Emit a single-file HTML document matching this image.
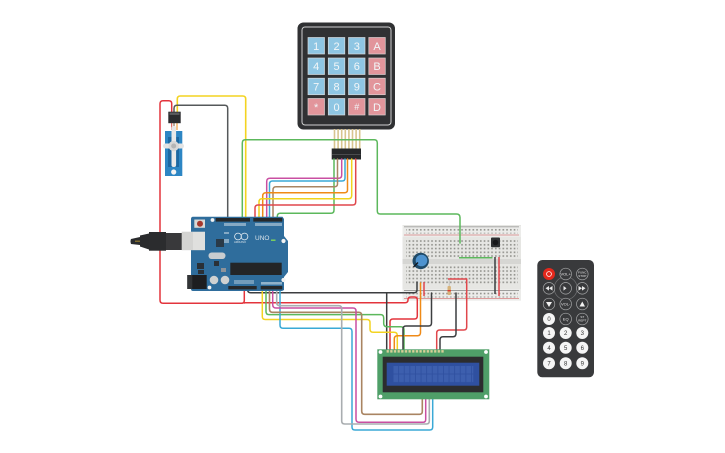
<!DOCTYPE html>
<html><head><meta charset="utf-8"><style>
html,body{margin:0;padding:0;background:#fff}
svg{display:block;filter:blur(.3px)}
text{font-family:"Liberation Sans",sans-serif}
</style></head><body>
<svg width="725" height="453" viewBox="0 0 725 453" xmlns="http://www.w3.org/2000/svg">
<defs>
<pattern id="h" x="404" y="228" width="3.75" height="3.75" patternUnits="userSpaceOnUse"><rect x="1" y="1" width="1.6" height="1.6" fill="#8f8f8a"/></pattern>
<pattern id="lc" x="393.5" y="366" width="5.6" height="8.4" patternUnits="userSpaceOnUse"><rect width="4.7" height="7.6" fill="#3d5fae"/></pattern>
<pattern id="lp" x="386" y="349.5" width="3.65" height="4" patternUnits="userSpaceOnUse"><rect x=".6" y=".6" width="2.3" height="2.5" fill="#d8cf98"/></pattern>
</defs>

<!-- breadboard -->
<rect x="402.5" y="225" width="118.5" height="75.5" fill="#e6e6e3"/>
<rect x="402.5" y="226" width="118.5" height="11" fill="#ececea"/>
<rect x="402.5" y="289" width="118.5" height="11" fill="#ececea"/>
<rect x="402.5" y="259" width="118.5" height="5" fill="#d6d6d3"/>
<rect x="404" y="226.5" width="115" height=".7" fill="#8a8a88"/>
<rect x="404" y="234.5" width="115" height="1" fill="#dc9a9a"/>
<rect x="404" y="290" width="115" height=".8" fill="#8a8a88"/>
<rect x="404" y="298" width="115" height="1" fill="#dc9a9a"/>
<rect x="406" y="227.5" width="112" height="6" fill="url(#h)"/>
<rect x="406" y="240" width="112" height="18" fill="url(#h)"/>
<rect x="406" y="266" width="112" height="18" fill="url(#h)"/>
<rect x="406" y="291.5" width="112" height="6" fill="url(#h)"/>

<!-- keypad -->
<rect x="297.5" y="22.5" width="97.5" height="107" rx="6" fill="#303133"/>
<rect x="302" y="27" width="89" height="98" rx="3" fill="none" stroke="#cfd0d0" stroke-width="1"/>
<g font-size="11" fill="#f2f6f8" text-anchor="middle">
<g fill="#8fc6e3" stroke="#d5dadd" stroke-width=".7">
<rect x="308" y="37.5" width="16.5" height="16.5"/><rect x="328.3" y="37.5" width="16.5" height="16.5"/><rect x="348.5" y="37.5" width="16.5" height="16.5"/>
<rect x="308" y="58" width="16.5" height="16.5"/><rect x="328.3" y="58" width="16.5" height="16.5"/><rect x="348.5" y="58" width="16.5" height="16.5"/>
<rect x="308" y="78.2" width="16.5" height="16.5"/><rect x="328.3" y="78.2" width="16.5" height="16.5"/><rect x="348.5" y="78.2" width="16.5" height="16.5"/>
<rect x="328.3" y="98.5" width="16.5" height="16.5"/>
</g>
<g fill="#e2959b" stroke="#d9cfd0" stroke-width=".7">
<rect x="368.8" y="37.5" width="16.5" height="16.5"/><rect x="368.8" y="58" width="16.5" height="16.5"/><rect x="368.8" y="78.2" width="16.5" height="16.5"/><rect x="368.8" y="98.5" width="16.5" height="16.5"/>
<rect x="308" y="98.5" width="16.5" height="16.5"/><rect x="348.5" y="98.5" width="16.5" height="16.5"/>
</g>
<text x="316.2" y="50">1</text><text x="336.5" y="50">2</text><text x="356.8" y="50">3</text><text x="377" y="50">A</text>
<text x="316.2" y="70">4</text><text x="336.5" y="70">5</text><text x="356.8" y="70">6</text><text x="377" y="70">B</text>
<text x="316.2" y="90.5">7</text><text x="336.5" y="90.5">8</text><text x="356.8" y="90.5">9</text><text x="377" y="90.5">C</text>
<text x="316.2" y="111">*</text><text x="336.5" y="111">0</text><text x="356.8" y="110" font-size="9">#</text><text x="377" y="111">D</text>
</g>
<!-- ribbon -->
<path d="M334.5 129V149M338.1 129V149M341.7 129V149M345.3 129V149M348.9 129V149M352.5 129V149M356.1 129V149M359.7 129V149" stroke="#d8c48f" stroke-width="1.6"/>
<rect x="331.7" y="148.5" width="29.3" height="11" fill="#26282a"/>
<rect x="332" y="154" width="28.5" height="1" fill="#4a4c4e"/>

<!-- wires -->
<g fill="none" stroke-width="1.5" stroke-linecap="round">
<path d="M334 159V210Q334 213.3 331 213.3H280.3Q277.3 213.3 277.3 216.3V220" stroke="#5cb85c"/>
<path d="M341.7 159V175Q341.7 178.3 338.5 178.3H270Q266.7 178.3 266.7 181.5V220" stroke="#c94fa2"/>
<path d="M345 159V178Q345 181 342 181H272.5Q269.5 181 269.5 184V220" stroke="#3aa9d6"/>
<path d="M337.5 159V184Q337.5 186.7 334.5 186.7H276Q273 186.7 273 190V220" stroke="#a98462"/>
<path d="M347.5 159V190Q347.5 192.7 344.5 192.7H266Q262.7 192.7 262.7 196V220" stroke="#ef8a17"/>
<path d="M351.7 159V195.5Q351.7 198.7 348.5 198.7H262Q259 198.7 259 202V220" stroke="#f0d31e"/>
<path d="M355.7 159V202Q355.7 205 352.5 205H258Q255 205 255 208V220" stroke="#e0474c"/>

<path d="M171.7 112V103.5Q171.7 100.7 168.7 100.7H163Q160 100.7 160 103.7V300Q160 303.3 163 303.3H241.5Q244.3 303.3 244.3 300.5V288" stroke="#e3343c"/>
<path d="M177.3 112V99Q177.3 96 180.3 96H242.7Q245.7 96 245.7 99V220" stroke="#f3d321" stroke-width="1.6"/>
<path d="M174 112V108.5Q174 105.3 177 105.3H224.7Q227.7 105.3 227.7 108.3V220" stroke="#55585a"/>
<path d="M242.3 220V143Q242.3 139.8 245.3 139.8H374.3Q377.3 139.8 377.3 143V211Q377.3 214 380.3 214H456.5Q460 214 460 217.5V243" stroke="#5cb85c"/>

<path d="M244.3 303V302.7H405Q408 302.7 408 300V299.5Q408 297 411 297H414.5Q417.3 297 417.3 300V316Q417.3 319 414.3 319H393Q390 319 390 322V350" stroke="#e3343c"/>
<path d="M247.7 288V290Q247.7 292.7 250.7 292.7H414Q417 292.7 417 290V282" stroke="#3c3e40"/>
<path d="M386.7 292.7V350" stroke="#3c3e40"/>
<path d="M266 288V311.5Q266 314.6 269 314.6H380.5Q383.7 314.6 383.7 318V323.5Q383.7 326.7 387 326.7H400.5Q404 326.7 404 330V350" stroke="#5cb85c"/>
<path d="M262.3 288V316.5Q262.3 319.5 265.5 319.5H367Q370 319.5 370 322.5V329Q370 332.3 373 332.3H394Q397.3 332.3 397.3 335.5V350" stroke="#f3d321"/>
<path d="M280 288V325Q280 328.3 283 328.3H349Q352 328.3 352 331.5V427Q352 430 355 430H429.7Q432.7 430 432.7 427V398" stroke="#3aa9d6"/>
<path d="M269.5 288V309Q269.5 312.3 272.5 312.3H358.7Q361.7 312.3 361.7 315.5V411Q361.7 414.3 364.7 414.3H419.5Q422.3 414.3 422.3 411.5V398" stroke="#a98462" stroke-width="1.6"/>
<path d="M272.7 288V304.5Q272.7 308 276 308H353Q356 308 356 311V419Q356 422.3 359 422.3H423Q425.7 422.3 425.7 419.5V398" stroke="#c94fa2"/>
<path d="M276.7 288V302.5Q276.7 305.7 280 305.7H338.7Q341.7 305.7 341.7 308.7V421Q341.7 424 344.7 424H426.5Q429.3 424 429.3 421V398" stroke="#a9adb0" stroke-width="1.6"/>
<path d="M420.5 283V332.5Q420.5 335.7 417.5 335.7H397.5Q394.3 335.7 394.3 339V350" stroke="#ef8a17"/>
<path d="M431.5 293V323Q431.5 326 428.5 326H406Q403 326 403 329V350" stroke="#3c3e40"/>
<path d="M466.7 279V327Q466.7 330 463.7 330H439.7Q436.7 330 436.7 333V350" stroke="#e0474c"/>
<path d="M456 293V333.5Q456 336.7 453 336.7H443Q440 336.7 440 340V350" stroke="#3c3e40"/>
</g>
<g fill="none" stroke-width="1.5">
<path d="M459 257.7H492.5" stroke="#5cb85c"/>
<path d="M495 257V294" stroke="#3c3e40"/>
<path d="M499 257V296" stroke="#e0474c"/>
<path d="M448 279H467" stroke="#e0474c"/>
<path d="M424 282V296" stroke="#e0474c"/>
</g>
<rect x="447.5" y="286" width="3.4" height="9" rx="1" fill="#d7b37a"/>
<rect x="447.5" y="290" width="3.4" height="1.4" fill="#e03a2e"/>
<path d="M449.2 280V286" stroke="#b9b9b4" stroke-width=".8"/>
<rect x="491" y="237.5" width="9" height="9.8" rx="1" fill="#2e3032"/>
<circle cx="495.5" cy="242.5" r="2.8" fill="#17181a"/>
<circle cx="420.7" cy="261" r="8.2" fill="#1f4a68"/>
<circle cx="421.5" cy="260.5" r="5.8" fill="#4e93cf"/>
<path d="M413.5 267L418 262.5" stroke="#141a20" stroke-width="1.4"/>

<!-- servo -->
<rect x="165" y="131" width="17.3" height="45" fill="#2d86c4"/>
<rect x="168" y="137" width="11" height="30" fill="#1c68a2"/>
<circle cx="173.7" cy="172" r="2.6" fill="#f4f4f4"/>
<g fill="none" stroke-width="1"><path d="M171.7 123V130" stroke="#d9433a"/><path d="M174 123V130" stroke="#7a5a3a"/><path d="M177 123V130" stroke="#ef8a17"/></g>
<rect x="171.5" y="126" width="4.6" height="41" rx="2" fill="#e9e9e9"/>
<rect x="163" y="143.5" width="21" height="5" rx="2.5" fill="#e4e4e4"/>
<circle cx="173.7" cy="146" r="5.2" fill="#d8d8d8"/>
<circle cx="173.7" cy="146" r="2.5" fill="#b5b5b5"/>
<rect x="168.3" y="111.7" width="12.4" height="11.5" fill="#2a2b2d"/>
<rect x="169.5" y="112.5" width="10" height="2.4" fill="#5a5b5d"/>

<!-- arduino -->
<path d="M191 219Q191 216.7 193 216.7H282.5L284 219V236L288 241V272L284 277V290L282 291H193Q191 291 191 289Z" fill="#2f6d9c"/>
<rect x="149" y="232" width="17" height="18.7" fill="#2b2c2e"/>
<rect x="166" y="233" width="16" height="17" fill="#39393b"/>
<path d="M140 235.5L149 233.5V249.5L140 246.5Z" fill="#2a2b2d"/>
<path d="M131 239Q130 241 131 244L140 245V237Z" fill="#2a2b2d"/>
<rect x="135" y="240.5" width="5" height="1.5" fill="#7d6a2e"/>
<rect x="181.7" y="231.7" width="23.3" height="18.5" fill="#d4d4d2"/>
<rect x="193" y="232" width="12" height="18" fill="#e0e0de"/>
<rect x="194.3" y="219.5" width="10.7" height="8.3" fill="#d8d8d6"/>
<circle cx="200" cy="223.7" r="3" fill="#a5382e"/>
<circle cx="212.5" cy="220" r="1.9" fill="#f2f2f2"/><circle cx="283.5" cy="241" r="2.1" fill="#f2f2f2"/><circle cx="283.5" cy="280" r="2.1" fill="#f2f2f2"/><circle cx="209.5" cy="287.5" r="1.9" fill="#f2f2f2"/>
<rect x="215.7" y="218" width="34.3" height="3.6" fill="#26282a"/>
<rect x="253.3" y="218" width="29" height="3.6" fill="#26282a"/>
<rect x="228.3" y="286" width="28.4" height="3.4" fill="#26282a"/>
<rect x="260.7" y="286" width="21.6" height="3.4" fill="#26282a"/>
<rect x="230.3" y="262.7" width="51.4" height="12.3" fill="#232527"/>
<rect x="216" y="239" width="8" height="8" fill="#2a3a48"/>
<rect x="208.5" y="252.5" width="17" height="6.5" rx="3.2" fill="#c9cdd0"/>
<rect x="197" y="263" width="7" height="6" fill="#2a3036"/><rect x="198" y="270" width="6" height="4" fill="#2a3036"/>
<rect x="214" y="261" width="5" height="5" fill="#2a3036"/>
<rect x="187.3" y="275" width="19.4" height="14" fill="#1d1e20"/>
<rect x="187.3" y="275" width="5" height="14" fill="#323436"/>
<circle cx="214" cy="280" r="4.3" fill="#cfd1d1"/><circle cx="225" cy="280" r="4.3" fill="#cfd1d1"/>
<rect x="221" y="268" width="5" height="4" fill="#8d939a"/>
<g fill="none" stroke="#e6edf2" stroke-width=".8"><circle cx="238" cy="236.5" r="3.4"/><circle cx="244.5" cy="236.5" r="3.4"/></g>
<text x="255" y="240" font-size="6.5" fill="#d9e3ea">UNO</text>
<text x="234" y="243" font-size="2.6" fill="#d9e3ea">ARDUINO</text>
<rect x="271" y="239.5" width="4.5" height="1.4" fill="#7fd65a"/>
<g fill="#aac3d6"><rect x="224" y="223" width="22" height="3" opacity=".7"/><rect x="255" y="223" width="27" height="3" opacity=".7"/><rect x="261" y="282" width="21" height="2.6" opacity=".8"/><rect x="234" y="280" width="20" height="4" opacity=".55"/><rect x="224" y="232" width="5" height="2" opacity=".7"/><rect x="224" y="239" width="5" height="4" opacity=".7"/></g>

<!-- LCD -->
<rect x="377.3" y="349.3" width="112" height="50" fill="#4f9f68"/>
<circle cx="380.5" cy="352" r="1.9" fill="#fff"/><circle cx="486" cy="352" r="1.9" fill="#fff"/><circle cx="380.5" cy="396.5" r="1.9" fill="#fff"/><circle cx="486" cy="396.5" r="1.9" fill="#fff"/>
<rect x="386" y="349.5" width="58" height="4" fill="url(#lp)"/>
<rect x="382.7" y="356.7" width="100.6" height="35.6" fill="#2c2d2e"/>
<rect x="386.7" y="362.7" width="92.6" height="23" fill="#2f50a0"/>
<rect x="393.5" y="366" width="79.8" height="16.4" fill="url(#lc)"/>

<!-- remote -->
<rect x="537.3" y="260" width="56.7" height="117.3" rx="5" fill="#393a3c"/>
<circle cx="565.7" cy="288.3" r="11.5" fill="none" stroke="#707173" stroke-width=".7"/>
<circle cx="549" cy="274" r="6" fill="#e5281c"/>
<circle cx="549" cy="274" r="2.4" fill="none" stroke="#fff" stroke-width=".8"/>
<g fill="#393a3c" stroke="#a7a8a9" stroke-width=".7">
<circle cx="565.7" cy="274" r="5.8"/><circle cx="582.3" cy="274" r="5.8"/>
<circle cx="549" cy="288.3" r="5.8"/><circle cx="565.7" cy="288.3" r="5.8"/><circle cx="582.3" cy="288.3" r="5.8"/>
<circle cx="549" cy="304" r="5.8"/><circle cx="565.7" cy="304" r="5.8"/><circle cx="582.3" cy="304" r="5.8"/>
<circle cx="565.7" cy="319" r="5.8"/><circle cx="582.3" cy="319" r="5.8"/>
</g>
<g fill="#f5f5f5">
<circle cx="549" cy="319" r="6"/>
<circle cx="549" cy="333" r="6"/><circle cx="565.7" cy="333" r="6"/><circle cx="582.3" cy="333" r="6"/>
<circle cx="549" cy="347.7" r="6"/><circle cx="565.7" cy="347.7" r="6"/><circle cx="582.3" cy="347.7" r="6"/>
<circle cx="549" cy="363.3" r="6"/><circle cx="565.7" cy="363.3" r="6"/><circle cx="582.3" cy="363.3" r="6"/>
</g>
<path d="M546 302H552L549 307ZM579.5 306.5H585L582.3 301.5Z" fill="#f2f2f2"/>
<path d="M549 286V290.6L545.5 288.3ZM552.5 286V290.6L549 288.3ZM578.5 286V290.6L582 288.3ZM582 286V290.6L585.5 288.3ZM563.5 286V290.6L566.5 288.3Z" fill="#e8e8e8"/>
<g font-size="4" fill="#e8e8e8" text-anchor="middle">
<text x="565.7" y="275.5">VOL+</text><text x="582.3" y="273.5" font-size="3">FUNC</text><text x="582.3" y="277" font-size="3">STOP</text>
<text x="565.7" y="305.5">VOL-</text><text x="565.7" y="320.5">EQ</text><text x="582.3" y="318" font-size="3">ST</text><text x="582.3" y="321.5" font-size="3">REPT</text>
</g>
<g font-size="6" fill="#333" text-anchor="middle">
<text x="549" y="321">0</text>
<text x="549" y="335">1</text><text x="565.7" y="335">2</text><text x="582.3" y="335">3</text>
<text x="549" y="349.8">4</text><text x="565.7" y="349.8">5</text><text x="582.3" y="349.8">6</text>
<text x="549" y="365.4">7</text><text x="565.7" y="365.4">8</text><text x="582.3" y="365.4">9</text>
</g>
</svg>
</body></html>
